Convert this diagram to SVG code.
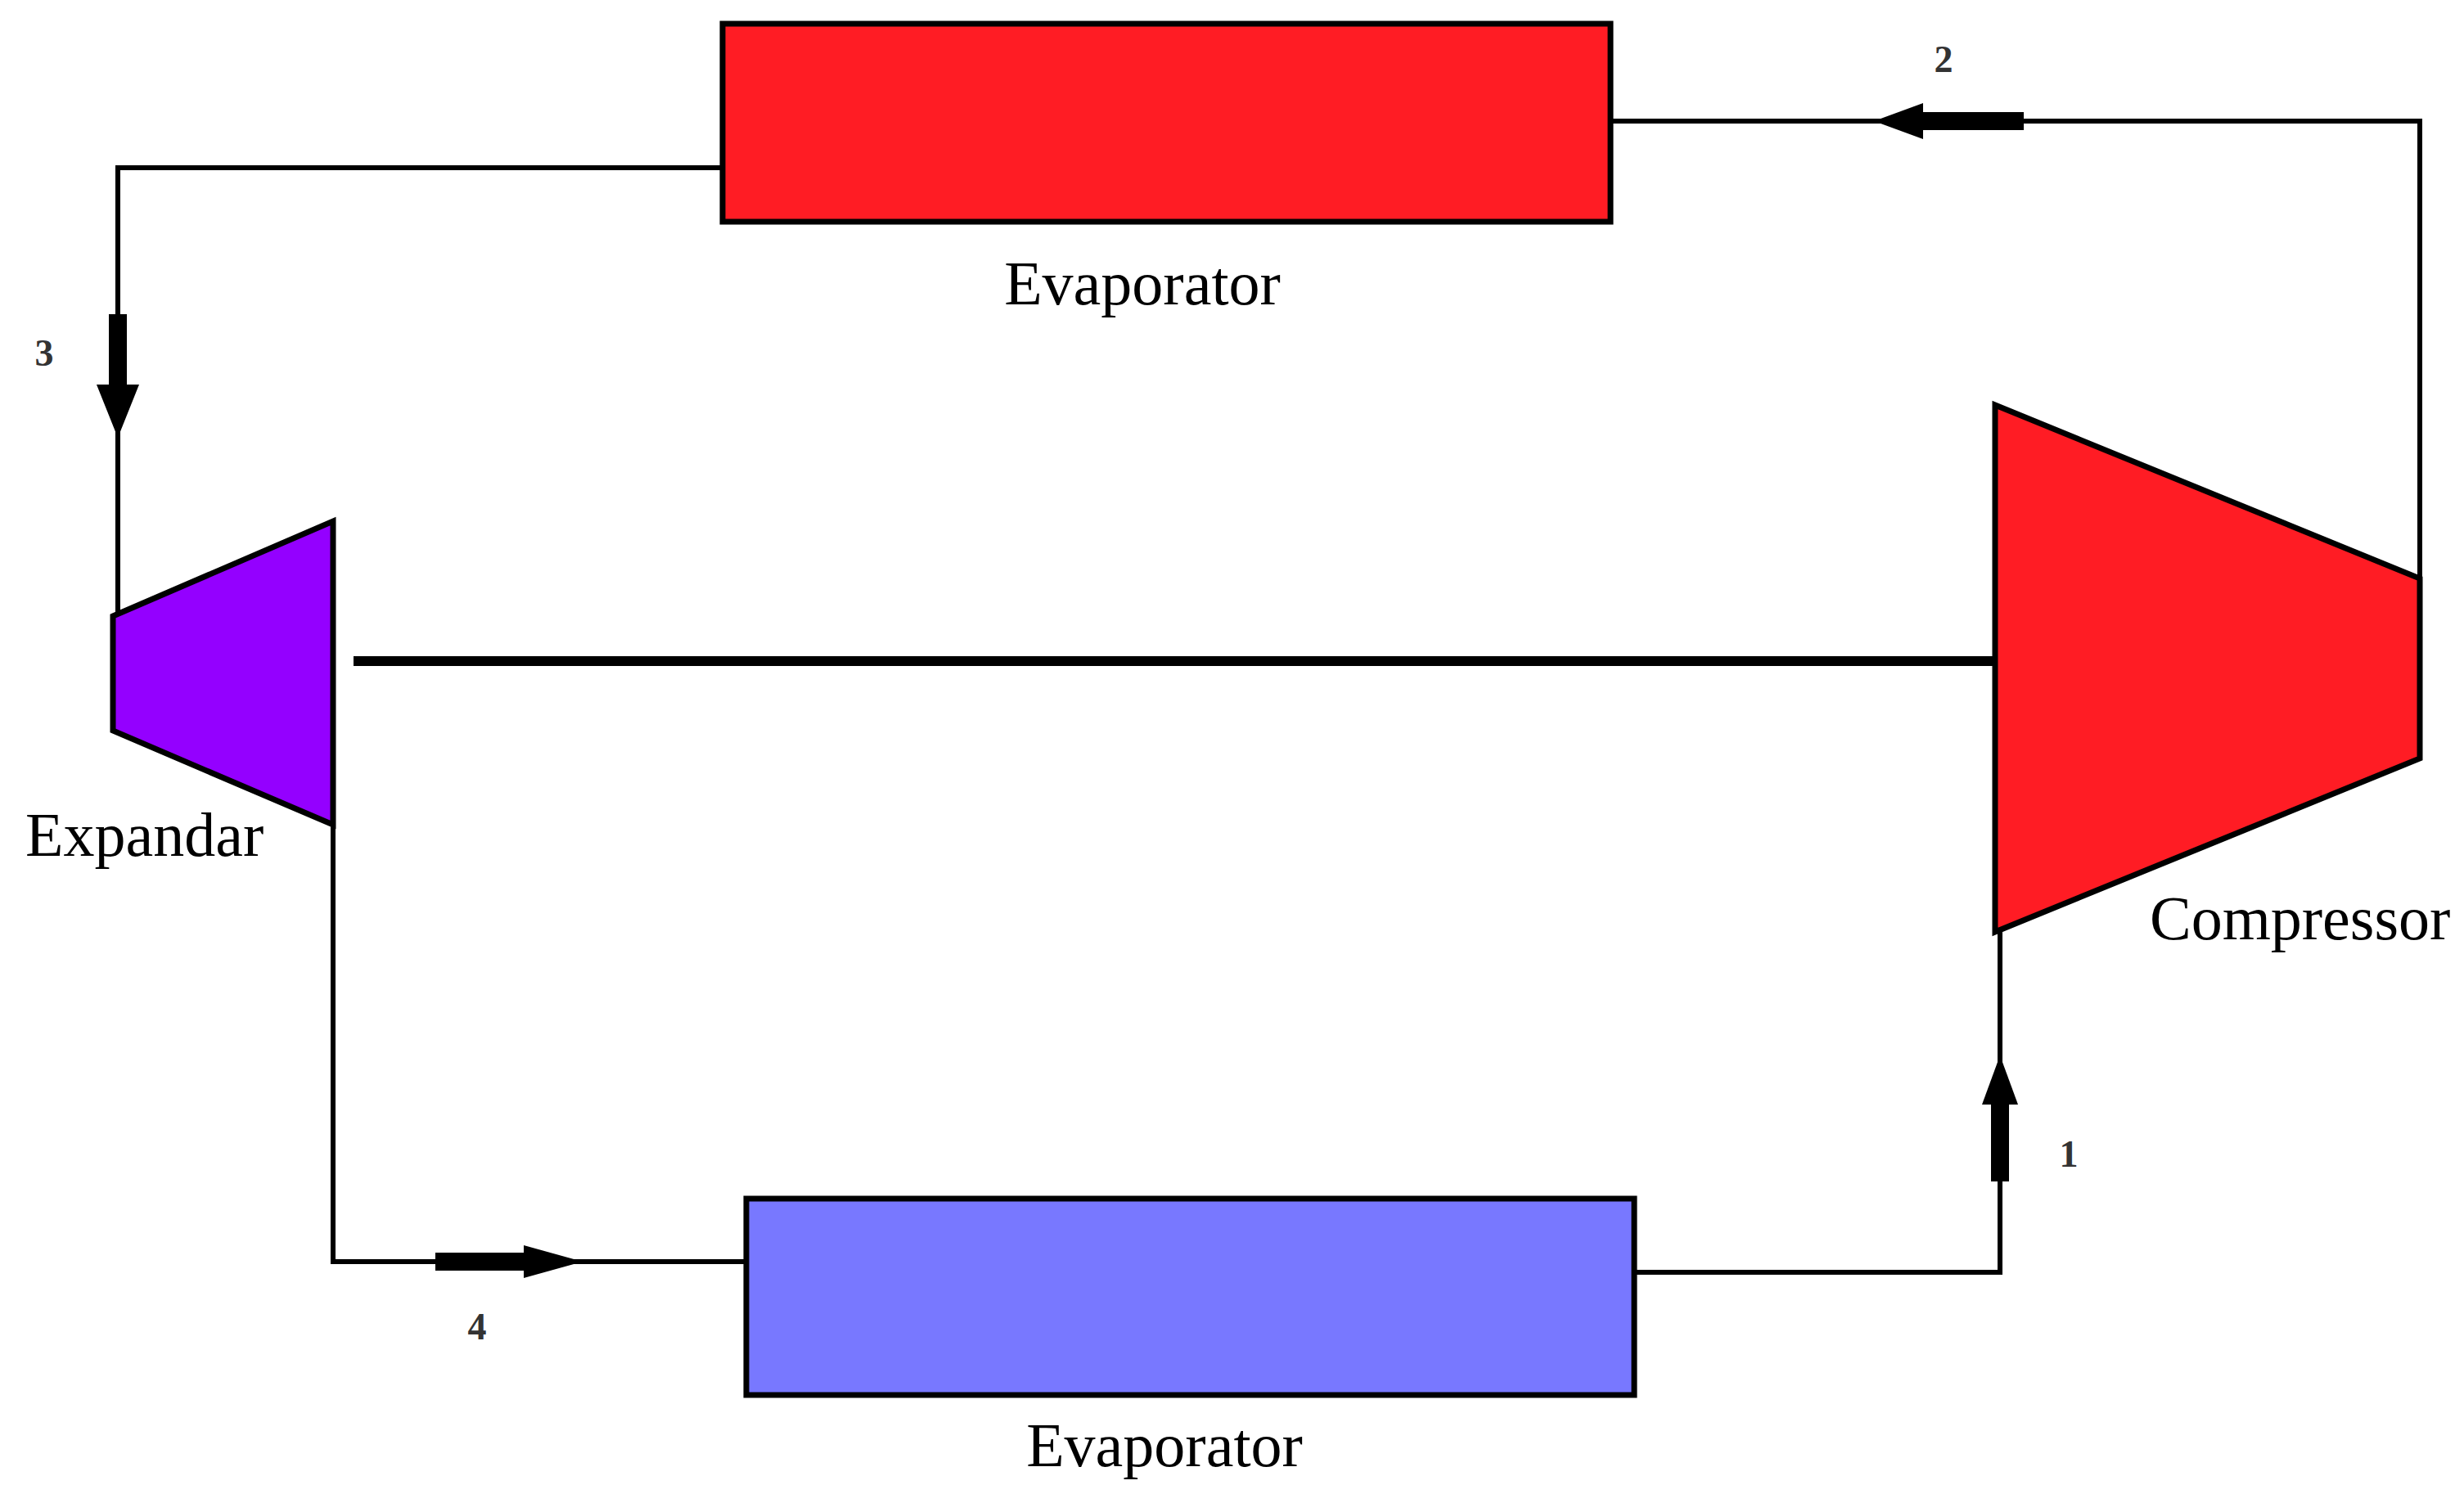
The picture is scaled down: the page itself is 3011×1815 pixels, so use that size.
<svg xmlns="http://www.w3.org/2000/svg" width="3011" height="1815" viewBox="0 0 3011 1815">
<style>
.lbl{font-family:"Liberation Serif",serif;font-size:76px;fill:#000}
.num{font-family:"Liberation Serif",serif;font-size:46px;fill:#333;font-weight:bold}
.pipe{fill:none;stroke:#000;stroke-width:6}
.arr{fill:none;stroke:#000;stroke-width:22}
.box{stroke:#000;stroke-width:7}
</style>
<rect width="3011" height="1815" fill="#fff"/>
<g id="connectors">
<polyline class="pipe" points="883,205 144,205 144,753"/>
<polyline class="pipe" points="1968,148 2957,148 2957,707"/>
<polyline class="pipe" points="407,1008 407,1542 912,1542"/>
<polyline class="pipe" points="1997,1555 2444,1555 2444,1139"/>
<line x1="432" y1="808" x2="2438" y2="808" stroke="#000" stroke-width="12"/>
<line class="arr" x1="144" y1="384" x2="144" y2="480"/>
<polygon points="118,470 170,470 144,535"/>
<line class="arr" x1="2340" y1="148" x2="2473" y2="148"/>
<polygon points="2350,126 2350,170 2290,148"/>
<line class="arr" x1="532" y1="1542" x2="650" y2="1542"/>
<polygon points="640,1522 640,1562 712,1542"/>
<line class="arr" x1="2444" y1="1444" x2="2444" y2="1340"/>
<polygon points="2422,1350 2466,1350 2444,1290"/>
</g>
<g id="evaporator-top"><rect class="box" x="883" y="29" width="1085" height="242" fill="#FF1C24"/><text class="lbl" x="1396" y="372" text-anchor="middle">Evaporator</text></g>
<g id="evaporator-bottom"><rect class="box" x="912" y="1465" width="1085" height="240" fill="#7878FF"/><text class="lbl" x="1423" y="1792" text-anchor="middle">Evaporator</text></g>
<g id="expander"><polygon class="box" points="138,753 407,637 407,1008 138,893" fill="#9400FF"/><text class="lbl" x="31" y="1046">Expandar</text></g>
<g id="compressor"><polygon class="box" points="2438,495 2957,707 2957,927 2438,1139" fill="#FF1C24"/><text class="lbl" x="2627" y="1148">Compressor</text></g>
<g id="labels">
<text class="num" x="54" y="447" text-anchor="middle">3</text>
<text class="num" x="2375" y="88" text-anchor="middle">2</text>
<text class="num" x="2528" y="1426" text-anchor="middle">1</text>
<text class="num" x="583" y="1637" text-anchor="middle">4</text>
</g>
</svg>
